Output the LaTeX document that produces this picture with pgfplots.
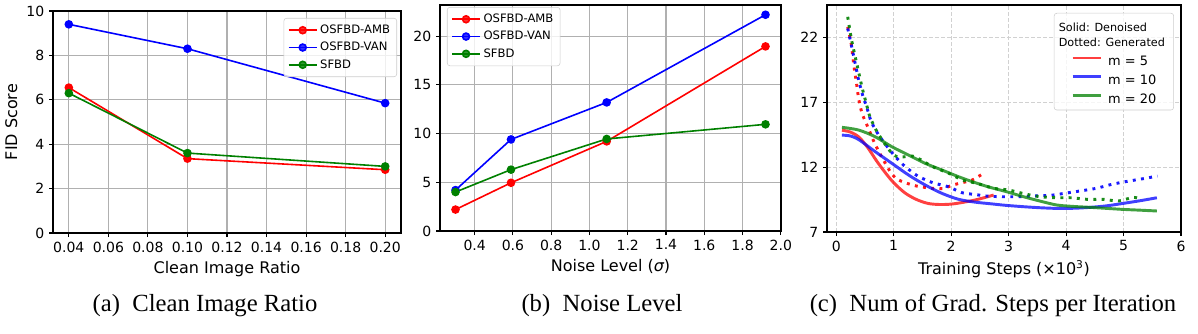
\documentclass[border=0pt]{standalone}
\usepackage{fontspec}
\setmainfont{DejaVu Sans}
\newfontfamily\capfont{Liberation Serif}
\usepackage{pgfplots}
\pgfplotsset{compat=1.18}

\definecolor{mplred}{HTML}{FF0000}
\definecolor{mplblue}{HTML}{0000FF}
\definecolor{mplgreen}{HTML}{008000}
\definecolor{gridgray}{HTML}{B0B0B0}

\pgfplotsset{
  common/.style={
    scale only axis,
    anchor=south west,
    axis line style={line width=0.8pt},
    tick align=outside,
    tick pos=left,
    major tick length=3pt,
    every tick/.style={black, line width=0.8pt},
    /pgf/number format/assume math mode=true,
    tick label style={font=\fontsize{10.5}{12}\selectfont},
    label style={font=\fontsize{12}{14}\selectfont},
    legend cell align=left,
  },
  ab/.style={
    common,
    grid=major,
    major grid style={gridgray, line width=0.8pt},
    every axis plot/.append style={line width=1.2pt, mark=*, mark size=2.6pt},
    legend style={font=\fontsize{8.7}{10}\selectfont, draw=black!20, rounded corners=2pt,
      fill=white, fill opacity=0.8, text opacity=1, inner sep=3pt, row sep=1pt},
    legend image code/.code={\draw[mark repeat=2,mark phase=2,#1] plot coordinates {(0pt,0pt) (10.5pt,0pt) (21pt,0pt)};},
  },
}

\newcommand{\ttl}[1]{\fontsize{8.4}{10}\selectfont\hspace*{-37pt}\rule[-3.2pt]{0pt}{13.2pt}#1}
\newcommand{\ent}[1]{\rule[-5.3pt]{0pt}{18pt}#1}

\begin{document}
\begin{tikzpicture}
\path[use as bounding box] (0,0) rectangle (898.5pt,249.75pt);

% (a)
\begin{axis}[ab, at={(39.75pt,75pt)}, width=261pt, height=166.5pt,
  xmin=0.032, xmax=0.208, ymin=0, ymax=10,
  xtick={0.04,0.06,0.08,0.10,0.12,0.14,0.16,0.18,0.20}, ytick={0,2,4,6,8,10},
  scaled x ticks=false,
  xticklabel style={/pgf/number format/.cd, fixed, fixed zerofill, precision=2},
  xlabel={Clean Image Ratio}, ylabel={FID Score},
  legend style={at={(0.9885,0.9685)}, anchor=north east}]
\addplot[mplred] coordinates {(0.04,6.55) (0.10,3.35) (0.20,2.85)};
\addlegendentry{OSFBD-AMB}
\addplot[mplblue] coordinates {(0.04,9.4) (0.10,8.3) (0.20,5.85)};
\addlegendentry{OSFBD-VAN}
\addplot[mplgreen] coordinates {(0.04,6.3) (0.10,3.6) (0.20,3.0)};
\addlegendentry{SFBD}
\end{axis}

% (b)
\begin{axis}[ab, at={(330pt,76.5pt)}, width=255.75pt, height=169.5pt,
  xmin=0.219, xmax=2.001, ymin=0, ymax=23.2,
  xtick={0.4,0.6,0.8,1.0,1.2,1.4,1.6,1.8,2.0}, ytick={0,5,10,15,20},
  xticklabel style={/pgf/number format/.cd, fixed, fixed zerofill, precision=1},
  xlabel={Noise Level ({\itshape σ})},
  legend style={at={(0.0205,0.991)}, anchor=north west}]
\addplot[mplred] coordinates {(0.30,2.2) (0.59,4.95) (1.09,9.2) (1.92,18.95)};
\addlegendentry{OSFBD-AMB}
\addplot[mplblue] coordinates {(0.30,4.2) (0.59,9.4) (1.09,13.2) (1.92,22.2)};
\addlegendentry{OSFBD-VAN}
\addplot[mplgreen] coordinates {(0.30,4.0) (0.59,6.3) (1.09,9.45) (1.92,10.95)};
\addlegendentry{SFBD}
\end{axis}

% (c)
\begin{axis}[common, at={(620.25pt,75.75pt)}, width=265.5pt, height=170.25pt,
  xmin=-0.16, xmax=6, ymin=7, ymax=24.5,
  xtick={0,1,2,3,4,5,6}, ytick={7,12,17,22},
  grid=major,
  major grid style={black!18, line width=0.6pt, dash pattern=on 3pt off 1.5pt},
  xlabel={Training Steps (×10\textsuperscript{3})},
  legend style={at={(0.980,0.965)}, anchor=north east, font=\fontsize{9.7}{11}\selectfont,
    draw=black!20, rounded corners=2pt, fill=white, fill opacity=0.8, text opacity=1,
    inner xsep=4.5pt, inner ysep=3.5pt, row sep=0pt, nodes={inner ysep=0pt}},
  legend image code/.code={\path (0pt,0pt) (31.75pt,0pt); \draw[#1, line width=2.2pt] (8.25pt,0pt) -- (29.25pt,0pt);},
  solid line/.style={line width=2.2pt, draw opacity=0.75, smooth, tension=0.5},
  dot line/.style={line width=2.2pt, draw opacity=0.9, smooth, tension=0.4, dash pattern=on 2.2pt off 4pt},
]
\addlegendimage{legend image code/.code={\path (0pt,0pt) (31.75pt,0pt);}}
\addlegendentry{\ttl{Solid: Denoised}}
\addlegendimage{legend image code/.code={\path (0pt,0pt) (31.75pt,0pt);}}
\addlegendentry{\ttl{Dotted: Generated}}

\addplot[mplred, solid line] coordinates {(0.1,14.85) (0.25,14.7) (0.4,14.3) (0.55,13.5) (0.7,12.5) (0.85,11.6) (1.0,10.8) (1.2,10.0) (1.4,9.5) (1.6,9.2) (1.8,9.12) (2.0,9.15) (2.2,9.28) (2.45,9.5) (2.74,9.85)};
\addlegendentry{\ent{m = 5}}
\addplot[mplred, dot line, forget plot] coordinates {(0.2,22.82) (0.26,21.54) (0.31,19.74) (0.35,18.58) (0.39,17.3) (0.45,16.14) (0.56,14.99) (0.67,13.83) (0.79,12.8) (0.94,11.65) (1.05,11.1) (1.2,10.8) (1.4,10.54) (1.66,10.37) (1.85,10.35) (2.07,10.67) (2.36,11.0) (2.58,11.57)};

\addplot[mplblue, solid line] coordinates {(0.1,14.47) (0.25,14.4) (0.4,14.1) (0.68,13.19) (0.97,12.29) (1.26,11.39) (1.55,10.62) (1.84,9.98) (2.13,9.52) (2.42,9.3) (2.68,9.18) (2.94,9.06) (3.26,8.95) (3.55,8.87) (3.84,8.82) (4.13,8.83) (4.42,8.9) (4.71,9.02) (5.0,9.21) (5.3,9.42) (5.58,9.64)};
\addlegendentry{\ent{m = 10}}
\addplot[mplblue, dot line, forget plot] coordinates {(0.2,22.69) (0.27,21.28) (0.33,20.0) (0.39,18.71) (0.46,17.55) (0.53,16.65) (0.61,15.5) (0.74,14.47) (0.91,13.45) (1.03,12.8) (1.19,12.08) (1.42,11.31) (1.68,10.8) (1.95,10.49) (2.19,10.03) (2.4,9.9) (2.62,9.77) (2.88,9.72) (3.17,9.72) (3.43,9.78) (3.72,9.82) (3.97,9.98) (4.24,10.16) (4.53,10.37) (4.79,10.67) (5.06,10.9) (5.34,11.11) (5.59,11.31)};

\addplot[mplgreen, solid line] coordinates {(0.1,15.07) (0.39,14.86) (0.68,14.34) (0.97,13.57) (1.26,12.93) (1.55,12.29) (1.84,11.78) (2.13,11.26) (2.42,10.8) (2.68,10.44) (2.97,10.1) (3.26,9.72) (3.55,9.38) (3.84,9.08) (4.13,8.97) (4.42,8.9) (4.71,8.82) (5.0,8.74) (5.3,8.68) (5.58,8.62)};
\addlegendentry{\ent{m = 20}}
\addplot[mplgreen, dot line, forget plot] coordinates {(0.2,23.59) (0.27,21.74) (0.36,19.94) (0.45,18.15) (0.52,16.96) (0.59,15.84) (0.71,14.73) (0.84,13.83) (0.97,13.06) (1.06,12.8) (1.19,12.8) (1.32,12.86) (1.46,12.6) (1.68,12.03) (1.94,11.57) (2.2,11.0) (2.45,10.75) (2.74,10.37) (3.0,10.24) (3.29,9.93) (3.55,9.72) (3.84,9.64) (4.1,9.64) (4.36,9.52) (4.65,9.52) (4.91,9.39) (5.17,9.67) (5.32,9.52)};
\end{axis}

\node[anchor=base, font=\capfont\fontsize{18.5}{21}\selectfont] at (153.75pt,16.5pt) {(a)~~Clean Image Ratio};
\node[anchor=base, font=\capfont\fontsize{18.5}{21}\selectfont] at (451.5pt,16.5pt) {(b)~~Noise Level};
\node[anchor=base, font=\capfont\fontsize{18.5}{21}\selectfont] at (744.75pt,16.5pt) {(c)~~Num of Grad. Steps per Iteration};
\end{tikzpicture}
\end{document}
